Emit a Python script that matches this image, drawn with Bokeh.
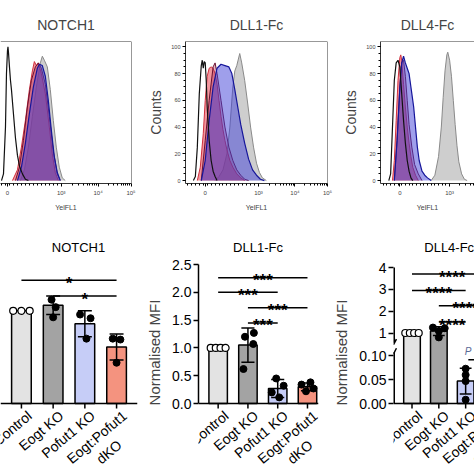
import math
from bokeh.plotting import figure
from bokeh.layouts import row, column
from bokeh.models import Range1d, FixedTicker, Span, NumeralTickFormatter
from bokeh.core.properties import value
from bokeh.embed import file_html
from bokeh.resources import INLINE

FONT = "Liberation Sans"

# ---------------------------------------------------------------- flow histograms
# x: display channel (biexponential axis: 0, 10^3, 10^4, 10^5), y: % of mode
hist_ticks = [0, 54, 91, 124]
hist_tick_labels = ["0", "10³", "10⁴", "10⁵"]
count_ticks = [0, 20, 40, 60, 80, 100]

# NOTCH1
n1_black_x = [-6, -4, -2, -1, 0, 0.5, 1, 2, 3, 4, 6, 8, 10, 12, 15, 18, 21]
n1_black_y = [0, 5, 40, 80, 97, 100, 96, 85, 75, 68, 50, 32, 19, 11, 5, 1, 0]
n1_red_x = [5, 10, 14, 18, 22, 25, 27, 29, 31, 34, 38, 42, 45, 48, 51]
n1_red_y = [0, 8, 25, 45, 68, 82, 89, 86, 88, 80, 65, 40, 20, 6, 0]
n1_maroon_x = [8, 12, 16, 20, 24, 28, 31, 34, 38, 42, 46, 50, 53]
n1_maroon_y = [0, 10, 30, 55, 75, 85, 88, 84, 72, 48, 22, 5, 0]
n1_blue_x = [10, 14, 18, 22, 26, 30, 32, 35, 38, 41, 44, 47, 50, 53]
n1_blue_y = [0, 10, 28, 50, 70, 84, 87, 86, 78, 60, 38, 18, 6, 0]
n1_gray_x = [13, 17, 21, 25, 29, 33, 35, 37, 40, 43, 46, 49, 52, 55, 58]
n1_gray_y = [0, 8, 25, 48, 70, 88, 93, 90, 85, 68, 45, 25, 10, 2, 0]

# DLL1-Fc
d1_black_x = [-12, -10, -8, -6, -4, -3, -2, -1, 0, 1, 2, 4, 6, 8, 10, 12]
d1_black_y = [0, 3, 25, 65, 86, 90, 84, 89, 88, 75, 55, 30, 15, 7, 3, 0]
d1_red_x = [-8, -5, -2, 0, 2, 4, 6, 8, 10, 12, 14, 16, 18, 20, 22, 25, 28, 32, 36, 40]
d1_red_y = [0, 10, 35, 60, 78, 84, 85, 84, 80, 72, 60, 48, 38, 30, 23, 15, 10, 5, 2, 0]
d1_maroon_x = [-4, 0, 4, 8, 10, 12, 16, 20, 24, 28, 32, 36, 40, 44]
d1_maroon_y = [0, 30, 60, 85, 88, 80, 60, 40, 25, 15, 8, 4, 1, 0]
d1_blue_x = [-4, 0, 4, 8, 12, 16, 20, 24, 27, 30, 33, 36, 40, 44, 48, 52, 56, 60]
d1_blue_y = [0, 15, 45, 70, 84, 87, 86, 85, 80, 68, 55, 42, 28, 16, 8, 4, 1, 0]
d1_gray_x = [10, 14, 18, 22, 25, 28, 30, 32, 35, 37, 40, 43, 46, 49, 52, 55, 58, 62]
d1_gray_y = [0, 3, 8, 20, 40, 70, 82, 86, 95, 88, 75, 58, 40, 25, 13, 6, 2, 0]

# DLL4-Fc
d4_black_x = [-12, -10, -8, -6, -4, -2, 0, 2, 4, 6, 8, 10, 12, 14]
d4_black_y = [0, 5, 40, 75, 88, 90, 85, 65, 45, 28, 15, 7, 2, 0]
d4_red_x = [-8, -6, -4, -2, 0, 1, 2, 4, 6, 8, 10, 12, 14, 17, 20]
d4_red_y = [0, 15, 45, 75, 92, 94, 90, 72, 55, 40, 28, 18, 10, 4, 0]
d4_maroon_x = [-6, -3, 0, 2, 4, 6, 8, 10, 13, 16, 20, 24]
d4_maroon_y = [0, 30, 70, 88, 90, 78, 60, 42, 25, 12, 5, 0]
d4_blue_x = [-6, -3, 0, 2, 4, 6, 8, 10, 12, 13, 15, 17, 19, 21, 24, 27, 30, 34]
d4_blue_y = [0, 30, 70, 88, 93, 88, 84, 80, 70, 65, 55, 40, 25, 15, 7, 4, 2, 0]
d4_gray_x = [34, 38, 42, 45, 47, 49, 51, 52, 54, 56, 58, 60, 62, 64, 67, 70, 73]
d4_gray_y = [0, 4, 18, 40, 62, 82, 94, 96, 90, 78, 60, 42, 26, 14, 5, 1, 0]

# ---------------------------------------------------------------- MFI bar charts
groups = ["Control", "Eogt KO", "Pofut1 KO", "Eogt:Pofut1\ndKO"]
bar_colors = ["#e3e3e3", "#a3a3a3", "#c6cdf7", "#f4937f"]

notch1_mean = [1.0, 1.06, 0.86, 0.61]
notch1_sd = [0.0, 0.10, 0.14, 0.14]
notch1_pts = [[1.0, 1.0, 1.0], [1.12, 1.04, 0.93], [0.96, 0.92, 0.70], [0.70, 0.69, 0.44]]
notch1_jit = [[-0.26, 0.0, 0.26], [-0.05, 0.08, 0.0], [-0.15, 0.18, 0.05], [-0.12, 0.12, 0.0]]
notch1_sig = [(0, 3, 1.33, "*"), (1, 3, 1.16, "*")]

dll1_mean = [1.0, 1.05, 0.27, 0.30]
dll1_sd = [0.0, 0.31, 0.16, 0.07]
dll1_pts = [[1.0, 1.0, 1.0, 1.0], [1.27, 1.20, 1.07, 0.62], [0.45, 0.32, 0.20, 0.11], [0.38, 0.34, 0.27, 0.22]]
dll1_jit = [[-0.25, -0.08, 0.08, 0.25], [0.2, -0.1, 0.18, -0.15], [-0.05, 0.2, -0.2, 0.05], [0.1, -0.2, 0.2, -0.05]]
dll1_sig = [(0, 3, 2.26, "***"), (0, 2, 2.0, "***"), (1, 3, 1.72, "***"), (1, 2, 1.45, "***")]

dll4_mean = [1.0, 1.09, 0.047]
dll4_sd = [0.0, 0.20, 0.027]
dll4_pts = [[1.0, 1.0, 1.0, 1.0], [1.25, 1.22, 1.09, 0.80], [0.073, 0.060, 0.047, 0.008]]
dll4_jit = [[-0.25, -0.08, 0.08, 0.25], [-0.22, 0.22, 0.0, 0.0], [0.0, 0.0, 0.0, 0.0]]
dll4_sig = [(0, 3, 3.7, "****"), (0, 2, 2.95, "****"), (1, 3, 2.25, "****"), (1, 2, 1.5, "****")]
dll4_p_line = (2, 3, 0.092)

# Arial/Liberation advance widths (em) for the category labels
CHAR_W = {"E": .667, "o": .556, "g": .556, "t": .278, " ": .278, "K": .667, "O": .778,
          "P": .667, "f": .278, "u": .556, "1": .556, ":": .278, "C": .722, "n": .556,
          "r": .333, "l": .222, "d": .556}
LABEL_PX = 14
LABEL_ANGLE = math.radians(40)


def text_width(s):
    return max(sum(CHAR_W.get(c, 0.556) for c in line) for line in s.split("\n")) * LABEL_PX


def brk(v):
    """Broken y scale of the DLL4 panel: 0-0.1 linear below, 1-4 compressed above."""
    if v <= 0.2:
        return v * 10.0
    return 1.479 + (v - 1.0) * 0.458


# ---------------------------------------------------------------- helpers
def hist_fig(title, width, x0, x1, bl, br, title_offset, show_y, right_line, series):
    p = figure(width=width, height=230, x_range=Range1d(x0, x1), y_range=Range1d(-2.2, 104),
               output_backend="svg", toolbar_location=None,
               min_border_left=bl, min_border_right=br, min_border_top=41, min_border_bottom=47)
    p.outline_line_color = None
    p.grid.visible = False
    p.title.text = title
    p.title.text_font = FONT
    p.title.text_font_size = "14px"
    p.title.text_font_style = "normal"
    p.title.align = "center"
    p.title.offset = title_offset
    p.title.standoff = 17

    gray, blue, red, maroon, black = series
    p.varea(x=gray[0], y1=0, y2=gray[1], fill_color="#bdbdbd", fill_alpha=0.75)
    p.line(gray[0], gray[1], line_color="#8a8a8a", line_width=1)
    p.varea(x=red[0], y1=0, y2=red[1], fill_color="#e8404e", fill_alpha=0.55)
    p.line(red[0], red[1], line_color="#d0303e", line_width=1)
    p.varea(x=maroon[0], y1=0, y2=maroon[1], fill_color="#a01848", fill_alpha=0.3)
    p.line(maroon[0], maroon[1], line_color="#6a1030", line_width=1)
    p.varea(x=blue[0], y1=0, y2=blue[1], fill_color="#4040d8", fill_alpha=0.5)
    p.line(blue[0], blue[1], line_color="#16169a", line_width=1.2)
    p.line(black[0], black[1], line_color="#111111", line_width=1.2)

    p.add_layout(Span(location=104, dimension="width", line_color="#333333", line_width=1))
    if right_line:
        p.add_layout(Span(location=x1, dimension="height", line_color="#333333", line_width=1))

    minor = [v for v in range(-18, 52, 4)]
    for lo, hi in ((54, 91), (91, 124)):
        minor += [lo + (hi - lo) * math.log10(k) for k in range(2, 10)]
    xa = p.xaxis[0]
    xa.ticker = FixedTicker(ticks=hist_ticks, minor_ticks=minor)
    xa.major_label_overrides = dict(zip(hist_ticks, hist_tick_labels))
    xa.major_label_text_font = FONT
    xa.major_label_text_font_size = "6px"
    xa.major_label_text_color = "#444444"
    xa.major_label_standoff = 3
    xa.major_tick_out = 3
    xa.major_tick_in = 0
    xa.minor_tick_out = 2
    xa.minor_tick_in = 0
    xa.axis_line_color = "#333333"
    xa.axis_label = "YelFL1"
    xa.axis_label_text_font = FONT
    xa.axis_label_text_font_size = "7px"
    xa.axis_label_text_font_style = "normal"
    xa.axis_label_standoff = 5

    ya = p.yaxis[0]
    if show_y:
        ya.ticker = FixedTicker(ticks=count_ticks, minor_ticks=list(range(0, 101, 5)))
        ya.major_label_text_font = FONT
        ya.major_label_text_font_size = "5.5px"
        ya.major_label_text_color = "#444444"
        ya.major_label_standoff = 2
        ya.major_tick_out = 3
        ya.major_tick_in = 0
        ya.minor_tick_out = 2
        ya.minor_tick_in = 0
        ya.axis_line_color = "#333333"
        ya.axis_label = "Counts"
        ya.axis_label_text_font = FONT
        ya.axis_label_text_font_size = "14px"
        ya.axis_label_text_font_style = "normal"
        ya.axis_label_standoff = 4
    else:
        ya.visible = False
    return p


def style_bar_axis(ax):
    ax.axis_line_width = 1.5
    ax.axis_line_color = "black"
    ax.major_tick_line_width = 1.5
    ax.major_tick_line_color = "black"
    ax.major_tick_out = 5
    ax.major_tick_in = 0
    ax.minor_tick_line_color = None
    ax.major_label_text_font = FONT
    ax.major_label_text_font_size = "14px"
    ax.major_label_text_color = "black"


BAR_TOP_H = 34         # room above the value area for the panel title
BAR_FRAME_H = 139      # height of the value area above the category axis
BAR_LABEL_H = 71       # room below the category axis for the slanted names


def bar_fig(title, width, x0, x1, ymax, bl, br, title_px,
            means, sds, pts, jit, sig, ymap, show_y):
    ppu = BAR_FRAME_H / ymax
    ymin = -BAR_LABEL_H / ppu
    ytop = ymax + BAR_TOP_H / ppu
    frame_w = width - bl - br
    p = figure(width=width, height=244, x_range=Range1d(x0, x1), y_range=Range1d(ymin, ytop),
               output_backend="svg", toolbar_location=None,
               min_border_left=bl, min_border_right=br, min_border_top=0, min_border_bottom=0)
    p.outline_line_color = None
    p.grid.visible = False
    p.xaxis.visible = False

    # panel title, centred title_px pixels from the left edge of the plotting area
    p.text(x=[x0 + title_px * (x1 - x0) / frame_w], y=[ymax + 17 / ppu], text=[title],
           text_align="center", text_baseline="middle", text_font=value(FONT),
           text_font_size="13px", text_color="black")

    n = len(means)
    idx = list(range(n))
    p.vbar(x=idx, bottom=0, top=[ymap(m) for m in means], width=0.62,
           fill_color=bar_colors[:n], line_color="black", line_width=1.5)

    for i in idx:
        if sds[i] > 0:
            lo, hi = ymap(means[i] - sds[i]), ymap(means[i] + sds[i])
            p.segment(x0=[i, i - 0.22, i - 0.22], y0=[lo, lo, hi],
                      x1=[i, i + 0.22, i + 0.22], y1=[hi, lo, hi],
                      line_color="black", line_width=1.5)
        xs = [i + j for j in jit[i]]
        ys = [ymap(v) for v in pts[i]]
        if i == 0:
            p.scatter(xs, ys, size=7, fill_color="white", line_color="black", line_width=1.2)
        else:
            p.scatter(xs, ys, size=7, fill_color="black", line_color="black")

    for a, b, yv, stars in sig:
        y = ymap(yv)
        p.segment(x0=[a], y0=[y], x1=[b], y1=[y], line_color="black", line_width=1.5)
        p.text(x=[(a + b) / 2], y=[y], text=[stars], text_align="center",
               text_baseline="alphabetic", y_offset=3,
               text_font=value(FONT), text_font_size="17px", text_font_style="bold")

    # category axis: baseline, ticks and slanted group names
    cats = [0, 1, 2, 3]
    p.segment(x0=[x0], y0=[0], x1=[x1], y1=[0], line_color="black", line_width=1.5)
    p.segment(x0=cats, y0=[0] * 4, x1=cats, y1=[-5 / ppu] * 4, line_color="black", line_width=1.5)
    ca, sa = math.cos(LABEL_ANGLE), math.sin(LABEL_ANGLE)
    xoff, yoff = [], []
    for g in groups:
        half = text_width(g) / 2
        xoff.append(3 - half * ca)
        yoff.append(4 + half * sa)
    p.text(x=cats, y=[0] * 4, text=groups, angle=LABEL_ANGLE, x_offset=xoff, y_offset=yoff,
           text_align="center", text_baseline="top", text_font=value(FONT),
           text_font_size=f"{LABEL_PX}px", text_color="black")

    ya = p.yaxis[0]
    if show_y:
        style_bar_axis(ya)
        ya.bounds = (0, ymax)
        ya.axis_label = "Normalised MFI"
        ya.axis_label_text_font = FONT
        ya.axis_label_text_font_size = "15px"
        ya.axis_label_text_font_style = "normal"
        ya.axis_label_standoff = 6
        ya.major_label_standoff = 2
    else:
        ya.visible = False
    return p


# ---------------------------------------------------------------- top row
h1 = hist_fig("NOTCH1", 145, -7, 124.5, 0, 14, -3, False, True,
              [(n1_gray_x, n1_gray_y), (n1_blue_x, n1_blue_y), (n1_red_x, n1_red_y),
               (n1_maroon_x, n1_maroon_y), (n1_black_x, n1_black_y)])
h2 = hist_fig("DLL1-Fc", 195, -20, 124, 38, 13, 2, True, True,
              [(d1_gray_x, d1_gray_y), (d1_blue_x, d1_blue_y), (d1_red_x, d1_red_y),
               (d1_maroon_x, d1_maroon_y), (d1_black_x, d1_black_y)])
h3 = hist_fig("DLL4-Fc", 134, -21, 81, 32, 0, 17, True, False,
              [(d4_gray_x, d4_gray_y), (d4_blue_x, d4_blue_y), (d4_red_x, d4_red_y),
               (d4_maroon_x, d4_maroon_y), (d4_black_x, d4_black_y)])

# ---------------------------------------------------------------- bottom row
ident = lambda v: v
b1 = bar_fig("NOTCH1", 143, -0.66, 3.66, 1.5, 0, 6, 78,
             notch1_mean, notch1_sd, notch1_pts, notch1_jit, notch1_sig, ident, False)
b2 = bar_fig("DLL1-Fc", 187, -0.66, 3.37, 2.5, 46, 12, 64,
             dll1_mean, dll1_sd, dll1_pts, dll1_jit, dll1_sig, ident, True)
b2.yaxis[0].formatter = NumeralTickFormatter(format="0.0")
b2.yaxis[0].ticker = FixedTicker(ticks=[0, 0.5, 1.0, 1.5, 2.0, 2.5])

b3 = bar_fig("DLL4-Fc", 144, -0.69, 2.33, 2.917, 48, 0, 66,
             dll4_mean, dll4_sd, dll4_pts, dll4_jit, dll4_sig, brk, True)
lower_ticks = [0.0, 0.05, 0.10]
upper_ticks = [1, 2, 3, 4]
tick_pos = [round(brk(v), 4) for v in lower_ticks + upper_ticks]
tick_lbl = ["0.00", "0.05", "0.10", "1", "2", "3", "4"]
ya3 = b3.yaxis[0]
ya3.ticker = FixedTicker(ticks=tick_pos)
ya3.major_label_overrides = dict(zip(tick_pos, tick_lbl))
ya3.axis_line_color = None
# two axis segments with the break between them
b3.segment(x0=[-0.69, -0.69], y0=[0, brk(0.55)], x1=[-0.69, -0.69], y1=[brk(0.108), brk(4)],
           line_color="black", line_width=3)
b3.segment(x0=[-0.69, -0.69], y0=[brk(0.108) - 0.04, brk(0.55) - 0.04],
           x1=[-0.58, -0.58], y1=[brk(0.108) + 0.08, brk(0.55) + 0.08],
           line_color="black", line_width=1.5)
# Pofut1 KO vs double knockout comparison
pa, pb, pv = dll4_p_line
b3.segment(x0=[pa + 0.1], y0=[brk(pv)], x1=[pb], y1=[brk(pv)], line_color="black", line_width=1.5)
b3.text(x=[pa - 0.03], y=[brk(pv)], text=["P ="], text_align="left", text_baseline="bottom",
        y_offset=-3, text_font=value(FONT), text_font_size="10px", text_font_style="italic",
        text_color="#5a6a96")

layout = column(row(h1, h2, h3), row(b1, b2, b3))
open("out.html", "w").write(file_html(layout, INLINE))
